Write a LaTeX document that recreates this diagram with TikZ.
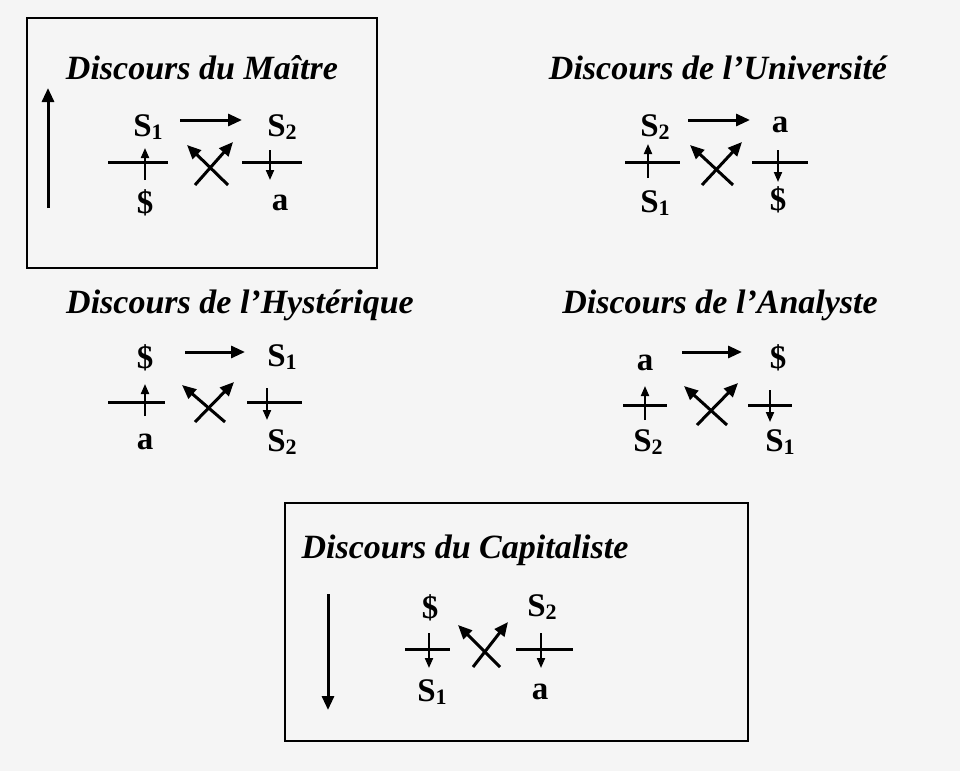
\documentclass[tikz,border=0pt]{standalone}
\usepackage{fontspec}
\setmainfont{Liberation Serif}
\usetikzlibrary{arrows.meta}
\newcommand\sub[1]{\raisebox{-0.25ex}{\fontsize{22}{24}\selectfont #1}}
\tikzset{
 ttl/.style={font=\fontsize{34}{36}\selectfont\bfseries\itshape},
 sym/.style={font=\fontsize{33}{35}\selectfont\bfseries, inner sep=0pt},
 ln/.style={line width=3pt},
 arr/.style={line width=3pt,-{Triangle[length=14pt,width=12pt]}},
 sarr/.style={line width=2pt,-{Triangle[length=10pt,width=8pt]}},
 frame/.style={draw, line width=2pt}
}
\begin{document}
\begin{tikzpicture}[x=1pt,y=-1pt]
\useasboundingbox (0,0) rectangle (960,771);
\fill[white!96!black] (0,0) rectangle (960,771);
% ---- Master
\draw[frame] (27,18) rectangle (377,268);
\node[ttl] (tM) at (202,68) {Discours du Maître};
\node[sym] (m1) at (148,127) {S\sub{1}};
\node[sym] (m2) at (282,127) {S\sub{2}};
\node[sym] (m3) at (145,203) {\$};
\node[sym] (m4) at (280,203) {a};
\coordinate (mh1) at (108,162); \coordinate (mh2) at (168,162);
\coordinate (mh3) at (242,162); \coordinate (mh4) at (302,162);
\draw[ln] (mh1) -- (mh2);
\draw[ln] (mh3) -- (mh4);
\coordinate (mv1) at (145,180); \coordinate (mv2) at (145,148);
\coordinate (mv3) at (270,150); \coordinate (mv4) at (270,180);
\draw[sarr] (mv1) -- (mv2);
\draw[sarr] (mv3) -- (mv4);
\coordinate (mt1) at (180,120); \coordinate (mt2) at (242,120);
\draw[arr] (mt1) -- (mt2);
\coordinate (mx1) at (195,185); \coordinate (mx2) at (233,142);
\coordinate (mx3) at (228,185); \coordinate (mx4) at (187,145);
\draw[arr] (mx1) -- (mx2);
\draw[arr] (mx3) -- (mx4);
\coordinate (ma) at (48,208); \coordinate (mb) at (48,88);
\draw[arr] (ma) -- (mb);
% ---- University
\node[ttl] (tU) at (718,68) {Discours de l’Université};
\node[sym] (u1) at (655,127) {S\sub{2}};
\node[sym] (u2) at (780,125) {a};
\node[sym] (u3) at (655,203) {S\sub{1}};
\node[sym] (u4) at (778,200) {\$};
\coordinate (uh1) at (625,162); \coordinate (uh2) at (680,162);
\coordinate (uh3) at (752,162); \coordinate (uh4) at (808,162);
\draw[ln] (uh1) -- (uh2);
\draw[ln] (uh3) -- (uh4);
\coordinate (uv1) at (648,178); \coordinate (uv2) at (648,144);
\coordinate (uv3) at (778,150); \coordinate (uv4) at (778,182);
\draw[sarr] (uv1) -- (uv2);
\draw[sarr] (uv3) -- (uv4);
\coordinate (ut1) at (688,120); \coordinate (ut2) at (750,120);
\draw[arr] (ut1) -- (ut2);
\coordinate (ux1) at (702,185); \coordinate (ux2) at (742,142);
\coordinate (ux3) at (733,185); \coordinate (ux4) at (690,145);
\draw[arr] (ux1) -- (ux2);
\draw[arr] (ux3) -- (ux4);
% ---- Hysteric
\node[ttl] (tH) at (240,305) {Discours de l’Hystérique};
\node[sym] (h1) at (145,358) {\$};
\node[sym] (h2) at (282,357) {S\sub{1}};
\node[sym] (h3) at (145,442) {a};
\node[sym] (h4) at (282,442) {S\sub{2}};
\coordinate (hh1) at (108,402); \coordinate (hh2) at (165,402);
\coordinate (hh3) at (247,402); \coordinate (hh4) at (302,402);
\draw[ln] (hh1) -- (hh2);
\draw[ln] (hh3) -- (hh4);
\coordinate (hv1) at (145,416); \coordinate (hv2) at (145,384);
\coordinate (hv3) at (267,388); \coordinate (hv4) at (267,420);
\draw[sarr] (hv1) -- (hv2);
\draw[sarr] (hv3) -- (hv4);
\coordinate (ht1) at (185,352); \coordinate (ht2) at (245,352);
\draw[arr] (ht1) -- (ht2);
\coordinate (hx1) at (195,422); \coordinate (hx2) at (234,382);
\coordinate (hx3) at (225,422); \coordinate (hx4) at (182,385);
\draw[arr] (hx1) -- (hx2);
\draw[arr] (hx3) -- (hx4);
% ---- Analyst
\node[ttl] (tA) at (720,305) {Discours de l’Analyste};
\node[sym] (a1) at (645,363) {a};
\node[sym] (a2) at (778,358) {\$};
\node[sym] (a3) at (648,442) {S\sub{2}};
\node[sym] (a4) at (780,442) {S\sub{1}};
\coordinate (ah1) at (623,405); \coordinate (ah2) at (667,405);
\coordinate (ah3) at (748,405); \coordinate (ah4) at (792,405);
\draw[ln] (ah1) -- (ah2);
\draw[ln] (ah3) -- (ah4);
\coordinate (av1) at (645,420); \coordinate (av2) at (645,386);
\coordinate (av3) at (770,390); \coordinate (av4) at (770,422);
\draw[sarr] (av1) -- (av2);
\draw[sarr] (av3) -- (av4);
\coordinate (at1) at (682,352); \coordinate (at2) at (742,352);
\draw[arr] (at1) -- (at2);
\coordinate (ax1) at (697,425); \coordinate (ax2) at (738,383);
\coordinate (ax3) at (727,425); \coordinate (ax4) at (684,386);
\draw[arr] (ax1) -- (ax2);
\draw[arr] (ax3) -- (ax4);
% ---- Capitalist
\draw[frame] (285,503) rectangle (748,741);
\node[ttl] (tC) at (465,550) {Discours du Capitaliste};
\node[sym] (c1) at (430,608) {\$};
\node[sym] (c2) at (542,607) {S\sub{2}};
\node[sym] (c3) at (432,692) {S\sub{1}};
\node[sym] (c4) at (540,692) {a};
\coordinate (ch1) at (405,649); \coordinate (ch2) at (450,649);
\coordinate (ch3) at (516,649); \coordinate (ch4) at (573,649);
\draw[ln] (ch1) -- (ch2);
\draw[ln] (ch3) -- (ch4);
\coordinate (cv1) at (429,633); \coordinate (cv2) at (429,668);
\coordinate (cv3) at (541,633); \coordinate (cv4) at (541,668);
\draw[sarr] (cv1) -- (cv2);
\draw[sarr] (cv3) -- (cv4);
\coordinate (cx1) at (473,667); \coordinate (cx2) at (508,622);
\coordinate (cx3) at (500,667); \coordinate (cx4) at (458,625);
\draw[arr] (cx1) -- (cx2);
\draw[arr] (cx3) -- (cx4);
\coordinate (ca) at (328,594); \coordinate (cb) at (328,710);
\draw[arr] (ca) -- (cb);
\end{tikzpicture}
\end{document}
